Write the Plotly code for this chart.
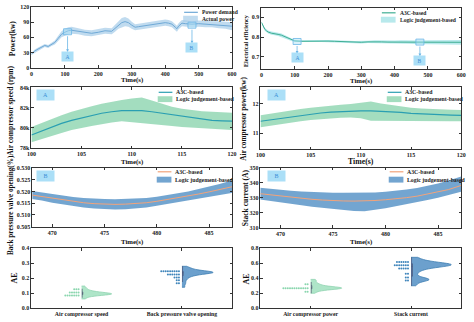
import plotly.graph_objects as go

W, H = 474, 322
FONT = "Liberation Serif"

# ---------------- data ----------------
# Panel 1: power tracking
power_t = [0,10,20,30,40,50,60,70,80,90,100,110,120,
           140,160,180,200,220,240,
           250,260,270,280,290,300,310,320,
           340,360,380,400,
           410,420,430,435,440,450,460,
           480,500,520,540,560,580,600]
power_demand = [27,33,37,40,44,42,46,50,58,66,70,73,74,
                72,69,68,70,73,72,
                78,85,89,91,89,84,80,81,
                83,85,87,89,
                88,86,80,77,82,88,87,
                86,87,86,86,85,84,82]
power_w = [2,3,3,3,3,3,3,4,5,6,7,7,7,
           6,6,6,6,6,6,
           7,8,9,9,8,7,6,6,
           6,6,6,6,
           6,6,6,6,6,6,6,
           6,6,6,6,7,7,8]

# Panel 2: electrical efficiency
eff_t = [0,5,10,15,20,30,40,50,60,70,80,90,100,
         120,140,160,180,200,220,240,260,280,300,320,340,360,380,400,
         420,440,460,480,500,520,540,560,580,600]
eff = [0.875,0.855,0.84,0.832,0.826,0.82,0.818,0.814,0.81,0.803,0.795,0.787,0.781,
       0.779,0.78,0.781,0.781,0.78,0.779,0.778,0.776,0.774,0.774,0.776,0.777,0.776,0.775,0.775,
       0.776,0.775,0.774,0.774,0.774,0.774,0.774,0.774,0.774,0.774]
eff_w = [0.004,0.006,0.007,0.008,0.008,0.008,0.008,0.008,0.008,0.007,0.007,0.006,0.005,
         0.005,0.005,0.005,0.005,0.005,0.005,0.006,0.006,0.006,0.006,0.006,0.007,0.007,0.007,0.008,
         0.008,0.008,0.009,0.009,0.01,0.01,0.011,0.011,0.012,0.012]

# Panel 3/4: zoom A (100-120 s)
zoomA_t = [100,101,102,103,104,105,106,107,108,109,110,111,112,113,114,115,116,117,118,119,120]
speed = [79300,79700,80100,80450,80750,81000,81250,81450,81600,81700,81720,81700,81600,81450,81300,81150,81000,80850,80750,80700,80670]
speed_lo = [78600,78900,79200,79500,79800,80000,80200,80400,80550,80650,80600,80450,80400,80300,80200,80100,80000,79950,79900,79850,79800]
speed_hi = [80100,80500,80900,81250,81600,81900,82150,82400,82600,82750,82900,83000,82700,82400,82100,81900,81750,81650,81600,81550,81500]
cpow = [11.40,11.45,11.50,11.55,11.60,11.64,11.68,11.71,11.73,11.75,11.75,11.75,11.74,11.72,11.70,11.67,11.65,11.63,11.62,11.61,11.60]
cpow_lo = [11.20,11.25,11.30,11.35,11.40,11.44,11.47,11.50,11.52,11.53,11.50,11.42,11.40,11.40,11.40,11.40,11.40,11.40,11.40,11.40,11.40]
cpow_hi = [11.60,11.66,11.72,11.77,11.82,11.86,11.90,11.93,11.96,11.99,12.03,12.07,12.00,11.95,11.90,11.86,11.83,11.81,11.80,11.79,11.78]

# Panel 5/6: zoom B (468-488 s)
zoomB_t = [468,469,470,471,472,473,474,475,476,477,478,479,480,481,482,483,484,485,486,487,488]
bpv = [0.5185,0.5178,0.5170,0.5163,0.5157,0.5152,0.5148,0.5146,0.5145,0.5146,0.5148,0.5152,0.5158,0.5165,0.5172,0.5180,0.5189,0.5198,0.5208,0.5218,0.5228]
bpv_w = [0.0017,0.0017,0.0018,0.0018,0.0019,0.0020,0.0021,0.0022,0.0022,0.0022,0.0021,0.0020,0.0019,0.0019,0.0019,0.0020,0.0021,0.0022,0.0024,0.0026,0.0028]
stack = [332.8,332.0,331.2,330.4,329.7,329.0,328.5,328.1,327.9,327.8,327.9,328.2,328.7,329.3,330.1,331.1,332.4,333.8,335.5,337.8,340.5]
stack_lo = [329.0,328.0,327.0,326.0,325.0,324.0,323.2,322.5,321.8,321.2,321.0,322.0,323.0,324.0,325.5,327.0,328.5,330.0,331.5,333.5,335.5]
stack_hi = [336.8,336.0,335.3,334.7,334.2,333.8,333.5,333.3,333.3,333.3,333.4,333.6,334.0,334.6,335.5,336.6,338.0,339.6,341.5,343.7,346.0]

# Panel 7/8: absolute error distributions
cats_left = ["Air compressor speed", "Back pressure valve opening"]
cats_right = ["Air compressor power", "Stack current"]
ae_speed = [0.062,0.07,0.078,0.083,0.086,0.088,0.09,0.091,0.092,0.093,0.094,0.095,0.095,0.096,
            0.097,0.098,0.099,0.1,0.101,0.103,0.105,0.108,0.11,0.113,0.118,0.123,0.13,0.138,0.148]
ae_bpv = [0.14,0.16,0.175,0.19,0.2,0.21,0.215,0.22,0.225,0.228,0.23,0.233,0.235,0.237,0.238,
          0.24,0.24,0.241,0.242,0.243,0.245,0.247,0.25,0.255,0.26,0.265,0.27,0.28]
ae_cpow = [0.20,0.22,0.235,0.245,0.25,0.255,0.26,0.262,0.265,0.267,0.27,0.27,0.272,0.275,
           0.278,0.28,0.285,0.29,0.30,0.31,0.32,0.33,0.35,0.37,0.385]
ae_stack = [0.30,0.33,0.36,0.37,0.38,0.385,0.39,0.40,0.42,0.45,0.48,0.50,0.52,0.53,0.54,0.55,
            0.555,0.56,0.565,0.57,0.575,0.58,0.58,0.585,0.585,0.59,0.595,0.60,0.605,0.61,0.62,
            0.63,0.64,0.66,0.68]
# binned dot strips (level, count)
dots_speed_lv = [0.127, 0.105, 0.085]
dots_speed_n = [3, 5, 7]
dots_bpv_lv = [0.247, 0.225, 0.205, 0.187, 0.167]
dots_bpv_n = [9, 6, 3, 2, 2]
dots_cpow_lv = [0.32, 0.268, 0.22]
dots_cpow_n = [2, 12, 2]
dots_stack_lv = [0.617, 0.573, 0.53, 0.46, 0.41, 0.37]
dots_stack_n = [6, 7, 5, 2, 2, 2]

# callouts
callA_t, callB_t = 108, 480
power_call_y = [71, 84]
power_label_y = [23, 40]
eff_call_y = [0.778, 0.775]
eff_label_y = [0.695, 0.683]

# legend texts
leg_line_names = ["Power demand", "A3C-based", "A3C-based", "A3C-based", "A3C-based", "A3C-based"]
leg_band_names = ["Actual power", "Logic judgement-based", "Logic judgement-based",
                  "Logic judgement-based", "Logic judgement-based", "Logic judgement-based"]

# ---------------- layout helpers ----------------
panels = {
    1: (27, 232, 4, 66),
    2: (262, 466, 5, 67),
    3: (27, 232, 86, 148),
    4: (261, 466, 86, 149),
    5: (28, 232, 168, 228),
    6: (261, 466, 168, 229),
    7: (27, 232, 250, 311),
    8: (261, 466, 250, 311),
}

def px_x(v):
    return v / W

def px_y(v):
    return 1 - v / H

def ax_style(**kw):
    d = dict(showline=True, linecolor="#333", linewidth=0.8, mirror="allticks",
             ticks="inside", ticklen=2.5, tickwidth=0.7, tickcolor="#333",
             showgrid=False, zeroline=False,
             tickfont=dict(family=FONT, size=6, color="#222", weight="bold"))
    d.update(kw)
    return d

def ref(i):
    return ("x" if i == 1 else f"x{i}"), ("y" if i == 1 else f"y{i}")

fig = go.Figure()

def band(i, t, lo, hi, color):
    xr, yr = ref(i)
    fig.add_trace(go.Scatter(x=list(t) + list(t)[::-1], y=list(hi) + list(lo)[::-1],
                             fill="toself", fillcolor=color, line=dict(width=0, color=color),
                             mode="lines", xaxis=xr, yaxis=yr, showlegend=False, hoverinfo="skip"))

def line(i, t, y, color, width=1.1):
    xr, yr = ref(i)
    fig.add_trace(go.Scatter(x=t, y=y, mode="lines", line=dict(color=color, width=width),
                             xaxis=xr, yaxis=yr, showlegend=False))

C_P1_BAND, C_P1_LINE = "rgba(150,195,228,0.6)", "#6fa9d6"
C_P2_BAND, C_P2_LINE = "rgba(160,225,230,0.75)", "#3fae93"
C_GR_BAND, C_TEAL = "rgba(140,212,175,0.8)", "#2a9fb2"
C_BL_BAND, C_ORANGE = "rgba(108,160,205,0.95)", "#f2a37a"

band(1, power_t, [a - w for a, w in zip(power_demand, power_w)],
     [a + w for a, w in zip(power_demand, power_w)], C_P1_BAND)
line(1, power_t, power_demand, C_P1_LINE, 1.0)
band(2, eff_t, [a - w for a, w in zip(eff, eff_w)], [a + w for a, w in zip(eff, eff_w)], C_P2_BAND)
line(2, eff_t, eff, C_P2_LINE, 1.0)
band(3, zoomA_t, speed_lo, speed_hi, C_GR_BAND)
line(3, zoomA_t, speed, C_TEAL, 1.2)
band(4, zoomA_t, cpow_lo, cpow_hi, C_GR_BAND)
line(4, zoomA_t, cpow, C_TEAL, 1.2)
band(5, zoomB_t, [a - w for a, w in zip(bpv, bpv_w)], [a + w for a, w in zip(bpv, bpv_w)], C_BL_BAND)
line(5, zoomB_t, bpv, C_ORANGE, 1.0)
band(6, zoomB_t, stack_lo, stack_hi, C_BL_BAND)
line(6, zoomB_t, stack, C_ORANGE, 1.0)

# Panels 7/8: half violins + dot strips
def violin(i, pos, samples, fill, edge, width, bw):
    xr, yr = ref(i)
    fig.add_trace(go.Violin(x=[pos] * len(samples), y=samples, xaxis=xr, yaxis=yr,
                            side="positive", width=width, points=False, spanmode="hard",
                            bandwidth=bw, fillcolor=fill, line=dict(color=edge, width=0.8),
                            box=dict(visible=True, width=0.04, fillcolor=fill,
                                     line=dict(color="#446", width=0.6)),
                            meanline=dict(visible=False), showlegend=False, hoverinfo="skip"))

def dots(i, pos, levels, counts, color):
    xr, yr = ref(i)
    xs, ys = [], []
    for lv, n in zip(levels, counts):
        for k in range(n):
            xs.append(pos - 0.03 - k * 0.022)
            ys.append(lv)
    fig.add_trace(go.Scatter(x=xs, y=ys, mode="markers", xaxis=xr, yaxis=yr,
                             marker=dict(size=2.0, color=color), showlegend=False,
                             hoverinfo="skip"))

GREEN_F, GREEN_E, GREEN_D = "rgba(160,225,190,0.85)", "#8fd3b0", "#8ad6ae"
BLUE_F, BLUE_E, BLUE_D = "rgba(92,150,200,0.9)", "#3f7fb3", "#3f85bb"
violin(7, 0, ae_speed, GREEN_F, GREEN_E, 0.6, 0.008)
violin(7, 1, ae_bpv, BLUE_F, BLUE_E, 0.62, 0.009)
violin(8, 0, ae_cpow, GREEN_F, GREEN_E, 0.62, 0.016)
violin(8, 1, ae_stack, BLUE_F, BLUE_E, 0.8, 0.022)
dots(7, 0, dots_speed_lv, dots_speed_n, GREEN_D)
dots(7, 1, dots_bpv_lv, dots_bpv_n, BLUE_D)
dots(8, 0, dots_cpow_lv, dots_cpow_n, GREEN_D)
dots(8, 1, dots_stack_lv, dots_stack_n, BLUE_D)

# ---------------- axes ----------------
axis_cfg = {
    1: (dict(range=[0, 600], dtick=100), dict(range=[0, 120], dtick=30)),
    2: (dict(range=[0, 600], dtick=100), dict(range=[0.64, 0.948], tickvals=[0.7, 0.8, 0.9])),
    3: (dict(range=[100, 120], dtick=5), dict(range=[78000, 84000], dtick=2000)),
    4: (dict(range=[100, 120], dtick=5), dict(range=[10.45, 12.55], dtick=1)),
    5: (dict(range=[468.1, 487.2], dtick=5), dict(range=[0.505, 0.530], dtick=0.005, tickformat=".3f")),
    6: (dict(range=[468.1, 487.2], dtick=5), dict(range=[310, 350], dtick=10)),
    7: (dict(range=[-0.5, 1.5], tickvals=[0, 1], ticktext=cats_left,
             tickfont=dict(family=FONT, size=5.8, color="#222", weight="bold")),
        dict(range=[0, 0.4], dtick=0.1, tickformat=".1f")),
    8: (dict(range=[-0.5, 1.5], tickvals=[0, 1], ticktext=cats_right,
             tickfont=dict(family=FONT, size=5.8, color="#222", weight="bold")),
        dict(range=[0, 0.8], dtick=0.2, tickformat=".1f")),
}
lay = {}
for i, (l, r, t, b) in panels.items():
    xk = "xaxis" if i == 1 else f"xaxis{i}"
    yk = "yaxis" if i == 1 else f"yaxis{i}"
    xr, yr = ref(i)
    xc, yc = axis_cfg[i]
    lay[xk] = ax_style(domain=[px_x(l), px_x(r)], anchor=yr, **xc)
    lay[yk] = ax_style(domain=[px_y(b), px_y(t)], anchor=xr, **yc)

# ---------------- annotations / custom legends ----------------
ann = []
shapes = []

def txt(x, y, s, size, angle=0, xanchor="center", color="#111", bold=True):
    ann.append(dict(x=px_x(x), y=px_y(y), xref="paper", yref="paper", text=s, showarrow=False,
                    textangle=angle, xanchor=xanchor, yanchor="middle",
                    font=dict(family=FONT, size=size, color=color,
                              weight="bold" if bold else "normal")))

txt(130, 78.5, "Time(s)", 6.8)
txt(364, 79.5, "Time(s)", 6.8)
txt(130, 162, "Time(s)", 6.8)
txt(364, 162, "Time(s)", 7.8)
txt(130, 244, "Time(s)", 6.8)
txt(364, 244, "Time(s)", 6.8)
txt(7, 36, "Power(kw)", 7.5, -90)
txt(6, 110, "Air compressor speed (rpm)", 7.5, -90)
txt(6, 206, "Back pressure valve opening(%)", 7.2, -90)
txt(10, 280, "AE", 8, -90)
txt(245, 38, "Electrical efficiency", 6.2, -90)
txt(244, 118, "Air compressor power(kw)", 7.3, -90)
txt(245, 198, "Stack current (A)", 7.5, -90)
txt(247, 281, "AE", 8, -90)

# legends: (text x, row1 y, row2 y, line color, band color, font size)
legend_spec = [
    (199, 9.5, 16, C_P1_LINE, C_P1_BAND, 5.6),
    (401, 10, 17, C_P2_LINE, C_P2_BAND, 5.6),
    (173, 91, 98, C_TEAL, C_GR_BAND, 5.8),
    (407, 91, 98, C_TEAL, C_GR_BAND, 5.8),
    (172, 172, 180, C_ORANGE, C_BL_BAND, 5.8),
    (409, 172, 180, C_ORANGE, C_BL_BAND, 5.8),
]
for k, (tx, y1, y2, lc, bc, fs) in enumerate(legend_spec):
    shapes.append(dict(type="line", xref="paper", yref="paper",
                       x0=px_x(tx - 16), x1=px_x(tx - 2), y0=px_y(y1), y1=px_y(y1),
                       line=dict(color=lc, width=1.2)))
    shapes.append(dict(type="rect", xref="paper", yref="paper",
                       x0=px_x(tx - 17), x1=px_x(tx - 2), y0=px_y(y2 + 3), y1=px_y(y2 - 3),
                       line=dict(width=0), fillcolor=bc))
    txt(tx, y1, leg_line_names[k], fs, xanchor="left", color="#222")
    txt(tx, y2, leg_band_names[k], fs, xanchor="left", color="#222")

LBL_BG, LBL_FG, ARROW = "#abdff7", "#3d8fd6", "#6cb6e6"

def callout(i, t, ycall, ylab, s):
    xr, yr = ref(i)
    shapes.append(dict(type="rect", xref=xr, yref=yr, xsizemode="pixel", ysizemode="pixel",
                       xanchor=t, yanchor=ycall, x0=-4, x1=4, y0=-3, y1=3,
                       line=dict(color=ARROW, width=0.8), fillcolor="rgba(171,223,247,0.45)"))
    ann.append(dict(x=t, y=ylab, xref=xr, yref=yr, ax=t, ay=ycall, axref=xr, ayref=yr,
                    text="", showarrow=True, arrowhead=2, arrowsize=0.7, arrowwidth=0.8,
                    arrowcolor=ARROW, standoff=4, startstandoff=3))
    ann.append(dict(x=t, y=ylab, xref=xr, yref=yr, text=s, showarrow=False, width=9, height=7,
                    xanchor="center", yanchor="middle",
                    bgcolor=LBL_BG, font=dict(family=FONT, size=5.5, color=LBL_FG)))

callout(1, callA_t, power_call_y[0], power_label_y[0], "A")
callout(1, callB_t, power_call_y[1], power_label_y[1], "B")
callout(2, 107, eff_call_y[0], eff_label_y[0], "A")
callout(2, 476, eff_call_y[1], eff_label_y[1], "B")

def corner_label(i, s, dx, dy):
    xr, yr = ref(i)
    ann.append(dict(x=dx, y=dy, xref=f"{xr} domain", yref=f"{yr} domain", text=s, showarrow=False,
                    width=15, height=8, bgcolor=LBL_BG, xanchor="center", yanchor="middle",
                    font=dict(family=FONT, size=6, color=LBL_FG)))

corner_label(3, "A", 0.07, 0.87)
corner_label(4, "A", 0.078, 0.87)
corner_label(5, "B", 0.065, 0.87)
corner_label(6, "B", 0.078, 0.87)

fig.update_layout(width=W, height=H, margin=dict(l=0, r=0, t=0, b=0),
                  paper_bgcolor="white", plot_bgcolor="white", showlegend=False,
                  annotations=ann, shapes=shapes, violinmode="overlay", **lay)

fig.write_html("out.html")
